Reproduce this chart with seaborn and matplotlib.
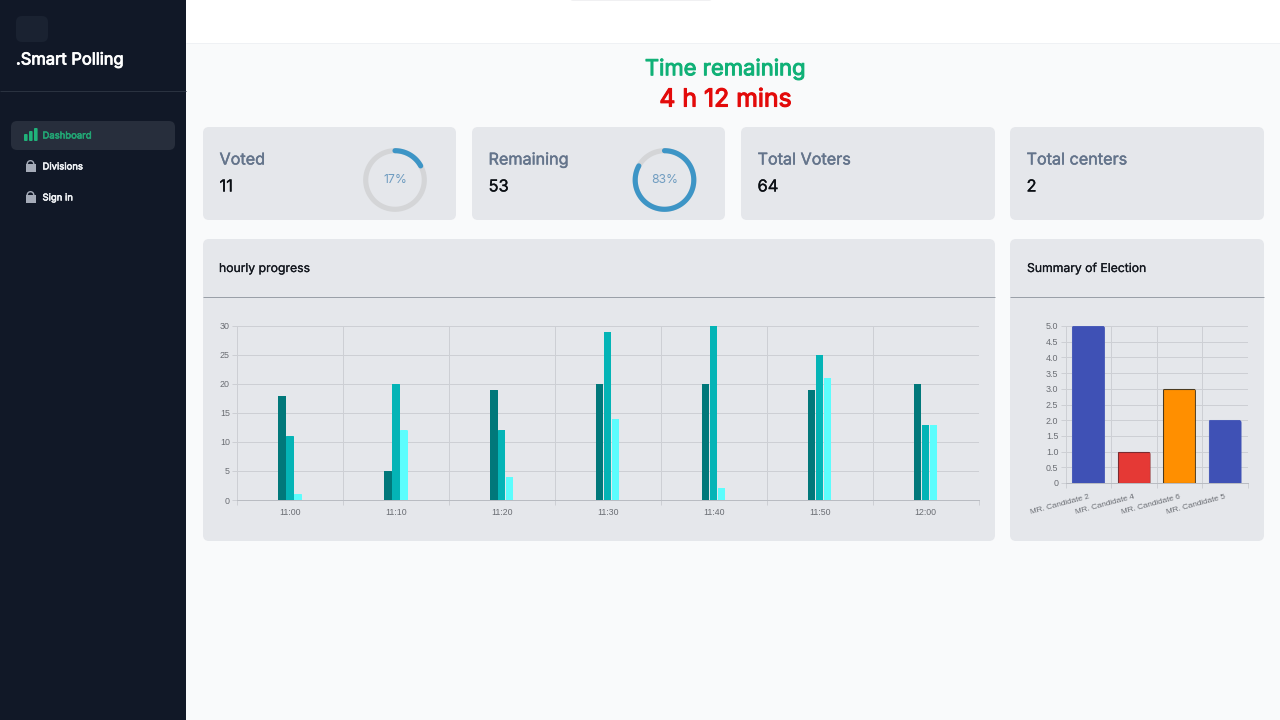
import numpy as np
import pandas as pd
import matplotlib
matplotlib.use("Agg")
import matplotlib.pyplot as plt
import matplotlib.patheffects as pe
import seaborn as sns
from matplotlib.patches import FancyBboxPatch, Rectangle, Wedge
from matplotlib.transforms import IdentityTransform

# hourly progress
hours = ["11:00", "11:10", "11:20", "11:30", "11:40", "11:50", "12:00"]
serie_a = [18, 5, 19, 20, 20, 19, 20]
serie_b = [11, 20, 12, 29, 30, 25, 13]
serie_c = [1, 12, 4, 14, 2, 21, 13]
hour_colors = ["#01787a", "#04b4b6", "#5cfdfd"]
hour_ticks = [0, 5, 10, 15, 20, 25, 30]

# summary of election
candidates = ["MR. Candidate 2", "MR. Candidate 4", "MR. Candidate 6", "MR. Candidate 5"]
votes = [5, 1, 3, 2]
cand_colors = ["#3f51b5", "#e53935", "#ff8f00", "#3f51b5"]
cand_edges = ["#4a5cb8", "#7a2b30", "#4a3a20", "#4a5cb8"]
vote_ticks = [0, 0.5, 1, 1.5, 2, 2.5, 3, 3.5, 4, 4.5, 5]

# stat cards
card_titles = ["Voted", "Remaining", "Total Voters", "Total centers"]
card_values = ["11", "53", "64", "2"]
donut_labels = ["17%", "83%"]
donut_shares = [0.17, 0.83]

menu_items = ["Dashboard", "Divisions", "Sign in"]

W, H = 1280, 720
GRID = "#cdcfd4"
TICK_TXT = "#6a6d73"

sns.set_style("white")
plt.rcParams["font.family"] = ["Inter", "DejaVu Sans"]

fig = plt.figure(figsize=(W / 100, H / 100), dpi=100, facecolor="#f9fafb")

# capa de fondo en pixeles
bg = fig.add_axes([0, 0, 1, 1], zorder=0)
bg.set_xlim(0, W)
bg.set_ylim(H, 0)
bg.axis("off")


def caja(x0, y0, x1, y1, color, r=6, z=1):
    bg.add_patch(FancyBboxPatch((x0 + r, y0 + r), x1 - x0 - 2 * r, y1 - y0 - 2 * r,
                                boxstyle=f"round,pad={r},rounding_size={r}",
                                fc=color, ec="none", zorder=z))


def texto(x, y, s, px, color, grosor=0, ha="left"):
    # Inter solo trae un peso, el negrita se simula con un trazo
    t = bg.text(x, y, s, fontsize=px * 0.72, color=color, ha=ha, va="center", zorder=5)
    if grosor:
        t.set_path_effects([pe.withStroke(linewidth=grosor, foreground=color)])


def linea(x0, x1, y, color, z=3):
    bg.plot([x0, x1], [y, y], color=color, lw=0.72, zorder=z, solid_capstyle="butt")


def candado(cx, cy, color):
    bg.add_patch(Rectangle((cx - 5, cy - 1), 10, 7.5, fc=color, ec="none", zorder=4))
    bg.add_patch(Wedge((cx, cy - 1), 4, 180, 360, width=1.4, fc=color, ec="none", zorder=4))


# barra superior y sidebar
bg.add_patch(Rectangle((186, 0), W - 186, 43, fc="white", ec="none", zorder=1))
linea(186, W, 43, "#eff1f4", z=2)
caja(570, -6, 712, 1, "#f0f0f2", r=3, z=2)
bg.add_patch(Rectangle((0, 0), 186, H, fc="#111827", ec="none", zorder=2))
linea(0, 186, 91, "#2a3240")
caja(16, 16, 48, 42, "#1a2231", r=6, z=3)
texto(16, 60, ".Smart Polling", 16.5, "white", 0.6)

caja(11, 121, 175, 150, "#272e3c", r=6, z=3)
for h, x in zip([7, 10, 13], [24, 29, 34]):
    caja(x, 141 - h, x + 3.6, 141, "#20b27a", r=1, z=4)
candado(30.5, 165, "#a5abb8")
candado(30.5, 196, "#a5abb8")
texto(42.5, 136, menu_items[0], 9.5, "#22a574", 0.4)
texto(42.5, 167, menu_items[1], 9.5, "#f1f3f6", 0.4)
texto(42.5, 198, menu_items[2], 9.5, "#f1f3f6", 0.4)

# encabezado
texto(725.5, 69, "Time remaining", 22, "#10b177", 0.7, ha="center")
texto(725.5, 100, "4 h 12 mins", 24.8, "#e30a0a", 0.8, ha="center")

# tarjetas
card_x = [(203, 456), (472, 725), (741, 995), (1010, 1264)]
for (x0, x1), t, v in zip(card_x, card_titles, card_values):
    caja(x0, 127, x1, 220, "#e5e7eb")
    texto(x0 + 16.5, 160, t, 16.2, "#64748b", 0.3)
    texto(x0 + 16.5, 187, v, 16.5, "#0b0f14", 0.2)

# donas
for cx, share, lab in zip([395, 664.5], donut_shares, donut_labels):
    ang = np.linspace(0, 2 * np.pi, 200)
    bg.plot(cx + 29.3 * np.sin(ang), 180 - 29.3 * np.cos(ang), color="#d4d5d7", lw=3.7, zorder=3)
    ang = np.linspace(0, 2 * np.pi * share, 120)
    bg.plot(cx + 29.3 * np.sin(ang), 180 - 29.3 * np.cos(ang), color="#3d95c6",
            lw=3.7, zorder=4, solid_capstyle="round")
    texto(cx, 180, lab, 12.2, "#6f9cc0", ha="center")

# tarjetas de los graficos
for x0, x1, t, dx in [(203, 995, "hourly progress", 16), (1010, 1264, "Summary of Election", 17)]:
    caja(x0, 239, x1, 541, "#e5e7eb")
    linea(x0, x1, 297, "#9aa0a8")
    texto(x0 + dx, 269, t, 12.2, "#14181f", 0.15)


def ejes(x0, y0, x1, y1):
    ax = fig.add_axes([x0 / W, 1 - y1 / H, (x1 - x0) / W, (y1 - y0) / H], zorder=2)
    ax.patch.set_alpha(0)
    return ax


def estilo(ax, n, yticks):
    ax.set_xlim(-0.5, n - 0.5)
    ax.set_ylim(0, max(yticks))
    ax.set_yticks(yticks)
    ax.set_xticks(np.arange(-0.5, n), minor=True)
    ax.set_axisbelow(True)
    ax.grid(True, axis="y", color=GRID, lw=0.72)
    ax.grid(True, axis="x", which="minor", color=GRID, lw=0.72)
    ax.grid(False, axis="x", which="major")
    ax.set_xlabel("")
    ax.set_ylabel("")
    for s in ax.spines.values():
        s.set_visible(False)
    ax.spines["bottom"].set_visible(True)
    ax.spines["bottom"].set_color("#b9bcc2")
    ax.spines["bottom"].set_linewidth(0.72)
    ax.spines["left"].set_visible(True)
    ax.spines["left"].set_color(GRID)
    ax.spines["left"].set_linewidth(0.72)
    ax.tick_params(axis="y", length=3.6, width=0.72, color=GRID, pad=1.5,
                   labelsize=6.4, labelcolor=TICK_TXT, left=True)
    ax.tick_params(axis="x", which="minor", length=3.6, width=0.72, color=GRID, bottom=True)
    ax.tick_params(axis="x", which="major", length=0, bottom=False)


def redondear(ax, r):
    # solo las esquinas de arriba quedan redondeadas
    for bar in ax.patches:
        e = bar.get_window_extent()
        clip = FancyBboxPatch((e.x0 + r - 0.5, e.y0 - 10), e.width - 2 * r + 1, e.height + 10 - r + 0.5,
                              boxstyle=f"round,pad={r},rounding_size={r}",
                              transform=IdentityTransform())
        bar.set_clip_path(clip)


def fuente_ticks(ax):
    for lab in ax.get_xticklabels() + ax.get_yticklabels():
        lab.set_family("Liberation Sans")


# hourly progress
df_h = pd.DataFrame({"hora": hours, "a": serie_a, "b": serie_b, "c": serie_c}).melt(
    id_vars="hora", var_name="serie", value_name="votos")
ax1 = ejes(237, 326, 978.5, 500)
sns.barplot(data=df_h, x="hora", y="votos", hue="serie", palette=hour_colors,
            width=0.226, gap=0.08, legend=False, saturation=1, linewidth=0, ax=ax1)
estilo(ax1, len(hours), hour_ticks)
ax1.set_xticks(range(len(hours)), hours)
ax1.tick_params(axis="x", which="major", labelsize=6.3, labelcolor=TICK_TXT, pad=5.5)
fuente_ticks(ax1)
redondear(ax1, 1.5)

# summary of election
df_c = pd.DataFrame({"candidato": candidates, "votos": votes})
ax2 = ejes(1065.5, 326, 1247.5, 483)
sns.barplot(data=df_c, x="candidato", y="votos", hue="candidato", palette=cand_colors,
            width=0.71, legend=False, saturation=1, ax=ax2)
estilo(ax2, len(candidates), vote_ticks)
ax2.set_yticklabels(["0"] + [f"{v:.1f}" for v in vote_ticks[1:]])
ax2.set_xticks(range(len(candidates)), candidates, rotation=15, ha="right", rotation_mode="anchor")
ax2.tick_params(axis="x", which="major", labelsize=5.85, labelcolor=TICK_TXT, pad=7.5)
fuente_ticks(ax2)
for bar, c in zip(ax2.patches, cand_edges):
    bar.set_edgecolor(c)
    bar.set_linewidth(0.8)
redondear(ax2, 3)

fig.savefig("out.png", dpi=100)
